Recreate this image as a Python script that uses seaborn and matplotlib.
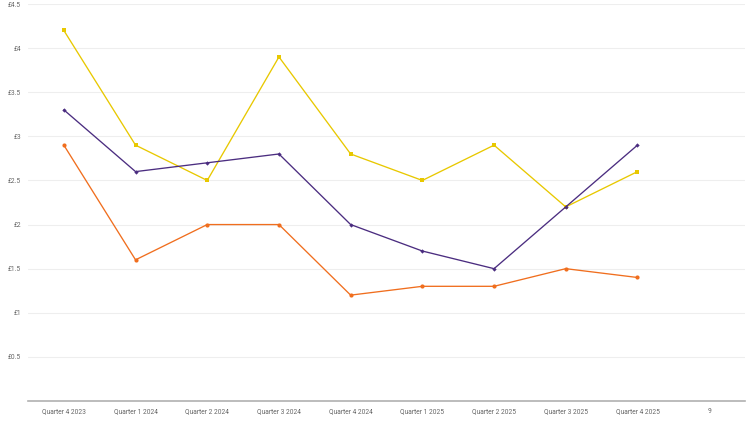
import matplotlib
matplotlib.use("Agg")
import matplotlib.pyplot as plt
import seaborn as sns
import pandas as pd
from matplotlib.ticker import FuncFormatter

categories = ["Quarter 4 2023", "Quarter 1 2024", "Quarter 2 2024", "Quarter 3 2024",
              "Quarter 4 2024", "Quarter 1 2025", "Quarter 2 2025", "Quarter 3 2025",
              "Quarter 4 2025", "9"]
yellow_vals = [4.2, 2.9, 2.5, 3.9, 2.8, 2.5, 2.9, 2.2, 2.6]
purple_vals = [3.3, 2.6, 2.7, 2.8, 2.0, 1.7, 1.5, 2.2, 2.9]
orange_vals = [2.9, 1.6, 2.0, 2.0, 1.2, 1.3, 1.3, 1.5, 1.4]
y_ticks = [0.5, 1, 1.5, 2, 2.5, 3, 3.5, 4, 4.5]

sns.set_theme(style="white")
plt.rcParams['font.family'] = ['Roboto', 'DejaVu Sans']

fig = plt.figure(figsize=(7.5, 4.22), dpi=100)
ax = fig.add_axes([28/750, 21/422, 717/750, 397/422])

series = [
    (yellow_vals, "#e8c800", "s", 3.4),
    (purple_vals, "#4b2d80", "D", 2.2),
    (orange_vals, "#f06e1e", "o", 3.0),
]
for vals, color, marker, ms in series:
    df = pd.DataFrame({"x": list(range(len(vals))), "y": vals})
    sns.lineplot(data=df, x="x", y="y", ax=ax, color=color, marker=marker,
                 markersize=ms, markeredgewidth=0, linewidth=0.95, sort=False, zorder=3)

ax.set_xlim(-0.5, len(categories) - 0.5)
ax.set_ylim(0, 4.5)
ax.set_xticks(range(len(categories)))
ax.set_xticklabels(categories)
ax.set_yticks(y_ticks)
ax.yaxis.set_major_formatter(FuncFormatter(lambda v, p: f"£{v:g}"))
ax.tick_params(axis="both", length=0, labelsize=4.8, colors="#666666")
ax.tick_params(axis="x", pad=5)
ax.tick_params(axis="y", pad=5)
ax.grid(axis="y", color="#eeeeee", linewidth=0.8)
ax.grid(axis="x", visible=False)
ax.set_xlabel("")
ax.set_ylabel("")
for s in ["top", "right", "left"]:
    ax.spines[s].set_visible(False)
ax.spines["bottom"].set_color("#b0b0b0")
ax.spines["bottom"].set_linewidth(1.2)

fig.savefig("out.png", dpi=100)
